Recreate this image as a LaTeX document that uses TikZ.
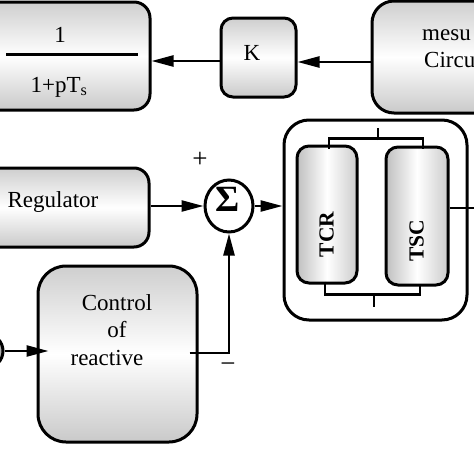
\documentclass[tikz,border=0pt]{standalone}
\usepackage{fontspec}
\setmainfont{Liberation Serif}
\usetikzlibrary{arrows.meta,shapes.geometric}
\begin{document}
\begin{tikzpicture}[x=1pt,y=-1pt,
  blk/.style={draw=black,line width=3pt,rounded corners=#1,top color=gray!38,bottom color=gray!42,middle color=white,inner sep=0pt},
  blk/.default=15pt,
  tall/.style={draw=black,line width=3pt,rounded corners=12pt,left color=gray!50,right color=gray!40,middle color=white,inner sep=0pt},
  txt/.style={font=\fontsize{23}{27}\selectfont,inner sep=0pt},
  btxt/.style={font=\fontsize{21.5}{22}\selectfont\bfseries,inner sep=0pt,rotate=90},
  arr/.style={line width=2.5pt,-{Triangle[length=22pt,width=11pt]}},
  bus/.style={line width=2.5pt},
  ]
\useasboundingbox (0,0) rectangle (474,474);
\clip (0,0) rectangle (474,474);

% top row
\node[blk=16pt,minimum width=170,minimum height=108] (frac) at (65,56) {};
\node[txt,anchor=base] (fnum) at (60,42) {1};
\node[txt,anchor=base] (fden) at (59,92) {1+pT\textsubscript{s}};
\draw[line width=3pt] (6,54) -- (138,54);

\node[blk=12pt,minimum width=75,minimum height=79] (K) at (258.5,57.5) {};
\node[txt,anchor=base] (Ktxt) at (252,60) {K};

\node[blk=22pt,minimum width=168,minimum height=112] (mes) at (456,57) {};
\node[txt,anchor=base west] (mes1) at (422,40) {mesu};
\node[txt,anchor=base west] (mes2) at (424,67) {Circu};

\draw[arr] ([yshift=-5pt]mes.west) -- ([yshift=-5pt]mes.west -| K.east);
\draw[arr] ([yshift=-3.5pt]K.west) -- ([yshift=-3.5pt]K.west -| frac.east);

% middle row
\node[blk=15pt,minimum width=169,minimum height=79] (reg) at (64.5,207.5) {};
\node[txt,anchor=base] (regtxt) at (53,207) {Regulator};

\node[draw,ellipse,line width=3pt,minimum width=48,minimum height=52,inner sep=0pt] (sig) at (229,206) {};
\node[font=\fontsize{37}{37}\selectfont\bfseries,inner sep=0pt] (sigsym) at (228,199) {Σ};
\node[font=\fontsize{27}{27}\selectfont,inner sep=0pt] (plus) at (200,160) {+};
\node[font=\fontsize{27}{27}\selectfont,inner sep=0pt] (minus) at (228,368) {−};

\draw[arr] (reg.east |- sig.west) -- (sig.west);

\node[draw,line width=3pt,rounded corners=25pt,fill=white,minimum width=183,minimum height=200] (outer) at (375.5,220) {};
\node[tall,minimum width=60,minimum height=137] (tcr) at (327,214.5) {};
\node[tall,minimum width=62,minimum height=138] (tsc) at (417,216) {};
\node[btxt] (tcrtxt) at (326.5,234.5) {TCR};
\node[btxt] (tsctxt) at (416.5,241) {TSC};

\draw[arr] (sig.east) -- (sig.east -| outer.west);

\coordinate (tstubA) at (378,140);
\coordinate (tstubB) at (378,128);
\coordinate (bstubA) at (374,293);
\coordinate (bstubB) at (374,307);
\coordinate (outR) at (480,208);
\draw[bus] ([xshift=2pt,yshift=-4pt]tcr.north) -- ++(0,-10) -| ([xshift=6pt,yshift=-3pt]tsc.north);
\draw[bus] (tstubA) -- (tstubB);
\draw[bus] ([xshift=-2pt,yshift=3pt]tcr.south) -- ++(0,13) -| ([xshift=3pt,yshift=3pt]tsc.south);
\draw[bus] (bstubA) -- (bstubB);
\draw[bus] ([yshift=8pt]tsc.east) -- (outR);

% bottom row
\node[blk=28pt,minimum width=159,minimum height=176] (ctrl) at (117.5,354) {};
\node[txt,anchor=base] (c1) at (117,310) {Control};
\node[txt,anchor=base] (c2) at (117,337) {of};
\node[txt,anchor=base] (c3) at (107,365) {reactive};

\node[draw,circle,line width=3pt,minimum size=34,fill=gray!60,inner sep=0pt] (inp) at (-14,351) {};
\draw[arr] (inp.east) -- ([xshift=12pt,yshift=3pt]ctrl.west);
\draw[arr] ([xshift=-9pt,yshift=1pt]ctrl.east) -| (sig.south);
\end{tikzpicture}
\end{document}
